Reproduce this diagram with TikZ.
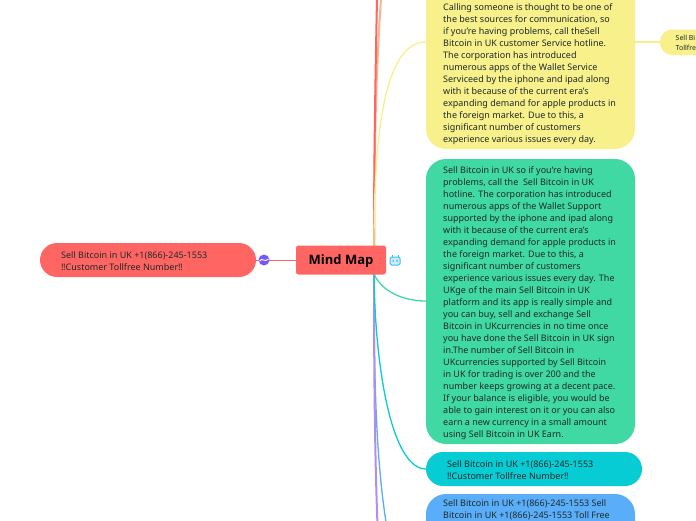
\documentclass[tikz,border=0pt]{standalone}
\usepackage{fontspec}
\setmainfont{Noto Sans}
\newfontfamily\hubfont{Open Sans}
\definecolor{cred}{HTML}{FF6663}
\definecolor{cyel}{HTML}{F7F08B}
\definecolor{cgrn}{HTML}{40D8A3}
\definecolor{ccyn}{HTML}{07CCD3}
\definecolor{cblu}{HTML}{5AADF8}
\definecolor{cpur}{HTML}{B68CEB}
\definecolor{cora}{HTML}{FFB48A}
\definecolor{ctxt}{HTML}{1F2A2A}
\definecolor{cico}{HTML}{38BDF0}
\tikzset{
  boxy/.style={inner sep=0pt,outer sep=0pt},
  blob/.style={rounded corners=#1},
  txt/.style={anchor=west,inner sep=0pt,font=\fontsize{9}{12}\selectfont,text=ctxt,align=left},
  conn/.style={line width=1.3pt},
  connb/.style={line width=2pt}
}
\begin{document}
\begin{tikzpicture}[x=1pt,y=-1pt]
\useasboundingbox (0,0) rectangle (696,520);
% anchors
\coordinate (hubT) at (374,246);
\coordinate (hubB) at (374,274);
\coordinate (yelIn) at (426,42);
\coordinate (grnIn) at (426,301);
\coordinate (cynIn) at (426,469);
\coordinate (redOut) at (377,-1);
\coordinate (oraOut) at (381,-1);
\coordinate (purOut) at (377.5,525);
\coordinate (bluOut) at (386.5,525);
% connectors
\draw[connb,cora] (hubT) .. controls (374,160) and (376,70) .. (oraOut);
\draw[connb,cred] (hubT) .. controls (374,160) and (375.5,70) .. (redOut);
\draw[conn,cyel] (hubT) .. controls (374,130) and (385,42) .. (yelIn);
\draw[conn,cgrn] (hubB) .. controls (382,292) and (404,301) .. (grnIn);
\draw[conn,cblu] (hubB) .. controls (374,380) and (376,460) .. (bluOut);
\draw[connb,cpur] (hubB) .. controls (374,380) and (375,460) .. (purOut);
\draw[conn,ccyn] (hubB) .. controls (375,370) and (392,469) .. (cynIn);
% boxes
\fill[cyel,blob=20pt] (426,-40) rectangle (635,149);
\fill[cgrn,blob=20pt] (426,159) rectangle (635,444);
\fill[ccyn,blob=17pt] (426,452) rectangle (642,486);
\fill[cblu,blob=20pt] (426,494) rectangle (635,560);
\fill[cyel,blob=12pt] (660,29.5) rectangle (720,55);
\fill[cred,blob=17pt] (40,243) rectangle (256,277);
\coordinate (yelR) at (635,42);
\coordinate (smL) at (660,42);
\coordinate (lbR) at (256,260);
\draw[conn,cyel] (yelR) -- (smL);
\node[boxy,fill=cred,rounded corners=2.5pt,minimum width=90pt,minimum height=29pt,anchor=west,font=\hubfont\fontsize{13}{15}\selectfont\bfseries,text=black] (hub) at (296,260) {\raisebox{-4.7pt}[0pt][0pt]{Mind Map}};
\draw[line width=1pt,cred] (lbR) -- (hub.west);
% text
\node[txt] (tl) at (61,260.7) {Sell Bitcoin in UK +1(866)-245-1553\\‼Customer Tollfree Number‼};
\node[txt,anchor=north west] (ty) at (443,3.2) {Calling someone is thought to be one of\\the best sources for communication, so\\if you're having problems, call theSell\\Bitcoin in UK customer Service hotline.\\The corporation has introduced\\numerous apps of the Wallet Service\\Serviceed by the iphone and ipad along\\with it because of the current era's\\expanding demand for apple products in\\the foreign market. Due to this, a\\significant number of customers\\experience various issues every day.};
\node[txt,anchor=north west] (tg) at (443,166.2) {Sell Bitcoin in UK so if you're having\\problems, call the\ \ Sell Bitcoin in UK\\hotline. The corporation has introduced\\numerous apps of the Wallet Support\\supported by the iphone and ipad along\\with it because of the current era's\\expanding demand for apple products in\\the foreign market. Due to this, a\\significant number of customers\\experience various issues every day. The\\UKge of the main Sell Bitcoin in UK\\platform and its app is really simple and\\you can buy, sell and exchange Sell\\Bitcoin in UKcurrencies in no time once\\you have done the Sell Bitcoin in UK sign\\in.The number of Sell Bitcoin in\\UKcurrencies supported by Sell Bitcoin\\in UK for trading is over 200 and the\\number keeps growing at a decent pace.\\If your balance is eligible, you would be\\able to gain interest on it or you can also\\earn a new currency in a small amount\\using Sell Bitcoin in UK Earn.};
\node[txt] (tc) at (447,470) {Sell Bitcoin in UK +1(866)-245-1553\\‼Customer Tollfree Number‼};
\node[txt,anchor=north west] (tb) at (443,499.5) {Sell Bitcoin in UK +1(866)-245-1553 Sell\\Bitcoin in UK +1(866)-245-1553 Toll Free};
\node[txt,font=\fontsize{7}{10}\selectfont] (ts) at (675.5,42.5) {Sell Bi\\Tollfre};
% icons
\fill[cpur!65!blue] (264,260) circle (5.5pt);
\draw[white,line width=0.9pt] (259.5,261) .. controls (262,257) and (265,263) .. (268.5,259);
\fill[cico!25] (390,257) rectangle (400,265);
\draw[cico,line width=1pt,rounded corners=1.5pt] (390,257) rectangle (400,265);
\draw[cico,line width=0.9pt] (392,257) -- (392,255) (398,257) -- (398,255);
\fill[cico] (392.5,259.5) rectangle (393.7,262) (396.3,259.5) rectangle (397.5,262);
\end{tikzpicture}
\end{document}
